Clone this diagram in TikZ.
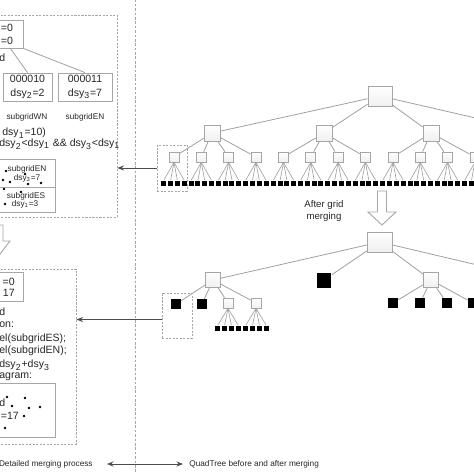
\documentclass[tikz,border=0pt]{standalone}
\usepackage{fontspec}
\setmainfont{Liberation Sans}
\usetikzlibrary{arrows.meta,positioning,fit}
\tikzset{
  qbox/.style={draw=gray!70, top color=white, bottom color=gray!12, inner sep=0pt, minimum size=#1},
  qbox/.default=2mm,
  leaf/.style={fill=black, inner sep=0pt, minimum size=#1},
  leaf/.default=1mm,
  link/.style={draw=gray!75, line width=0.45pt},
  dashbox/.style={draw=gray!70, dash pattern=on 1.2pt off 0.8pt, line width=0.5pt, inner sep=0pt},
  plainbox/.style={draw=gray!70, fill=white, inner sep=0pt, line width=0.5pt},
  txt/.style={font=\fontsize{6}{8}\selectfont, inner sep=0pt, text=black!85},
  small/.style={font=\fontsize{4.7}{5.5}\selectfont, inner sep=0pt, text=black!85},
  arr/.style={-{Stealth[length=1.3mm,width=1mm]}, draw=gray!60!black, line width=0.5pt},
  hollow/.style={draw=gray!70, fill=white, line width=0.5pt}}

\begin{document}
\begin{tikzpicture}[x=0.02cm, y=-0.02cm]
  \useasboundingbox (0,0) rectangle (474,474);
  % separator between the two halves
  \draw[gray!70, dash pattern=on 1.5pt off 1pt] (135,-5) -- (135,480);

  % detailed merging, first step
  \node[dashbox, fit={(-20,15) (117,217)}] (panelA) {};
  \node[plainbox, fit={(-40,20) (23,48)}] (parA) {};
  \node[txt, anchor=west] at (0.5,28) {=0};
  \node[txt, anchor=west] at (0.5,41) {=0};
  \node[txt, anchor=west] at (-1,58) {d};
  \node[plainbox, txt, align=center, minimum width=9.8mm, minimum height=5.6mm] (chWN) at (27.5,87) {000010\\dsy\textsubscript{2}=2};
  \node[plainbox, txt, align=center, minimum width=10.8mm, minimum height=5.6mm] (chEN) at (85,87) {000011\\dsy\textsubscript{3}=7};
  \draw[link] ([xshift=-2.6mm]parA.south east) -- (chWN.north);
  \draw[link] (parA.south east) -- (chEN.north);
  \node[small] (lbWN) at (27,117) {subgridWN};
  \node[small] (lbEN) at (85,117) {subgridEN};
  \node[txt, anchor=west] (condA) at (2,133) {dsy\textsubscript{1}=10)};
  \node[txt, anchor=west] (condB) at (-1,144) {dsy\textsubscript{2}<dsy\textsubscript{1} \&\& dsy\textsubscript{3}<dsy\textsubscript{1}};
  \node[plainbox, fit={(-20,159) (55,212)}] (gridA) {};
  \draw[gray!70] (gridA.west |- 0,187) -- (gridA.east |- 0,187);
  \node[small] at (27,169) {subgridEN};
  \node[small] at (27,178) {dsy\textsubscript{3}=7};
  \node[small] at (26,196) {subgridES};
  \node[small] at (25,204) {dsy\textsubscript{1}=3};
  \foreach \p in {(6,171),(3,180),(10,182),(25,174),(28,184),(41,183),(4,189),(21,192),(5,204)}
    \fill \p circle[radius=0.26mm];
  \draw[hollow] (-9,225) -- (3,225) -- (3,241) -- (10,241) -- (-3,258) -- (-16,241) -- (-9,241) -- cycle;

  % detailed merging, second step
  \node[dashbox, fit={(-20,269) (76,444)}] (panelB) {};
  \node[plainbox, fit={(-40,272) (23,301)}] (parB) {};
  \node[txt, anchor=east] at (15,282) {=0};
  \node[txt, anchor=east] at (15,293) {17};
  \node[txt, anchor=west] at (-1,312) {d};
  \node[txt, anchor=west] at (-1,325) {on:};
  \node[txt, anchor=west] at (-1,339) {el(subgridES);};
  \node[txt, anchor=west] at (-1,351) {el(subgridEN);};
  \node[txt, anchor=west] at (-1,365) {dsy\textsubscript{2}+dsy\textsubscript{3}};
  \node[txt, anchor=west] at (-1,377) {agram:};
  \node[plainbox, fit={(-20,383) (55,437)}] (gridB) {};
  \node[txt, anchor=west] at (-1,403) {d};
  \node[txt, anchor=west] at (0.5,416) {=17};
  \foreach \p in {(7,397),(25,398),(12,406),(29,408),(40,407),(24,416),(5,428)}
    \fill \p circle[radius=0.26mm];

  % legend
  \node[small, anchor=east] (lgL) at (93,464) {Detailed merging process};
  \node[small, anchor=west] (lgR) at (189,464) {QuadTree before and after merging};
  \draw[arr, {Stealth[length=1.3mm,width=1mm]}-{Stealth[length=1.3mm,width=1mm]}] ([xshift=2.8mm]lgL.east) -- ([xshift=-1.2mm]lgR.west);

  % quadtree before merging
  \node[qbox, minimum width=4.8mm, minimum height=4mm] (rootA) at (380,96) {};
  \foreach \i/\x in {1/212,2/324,3/431,4/541} {
    \node[qbox=3.2mm] (a\i) at (\x,133) {};
    \draw[link] (rootA) -- (a\i);
  }
  \foreach \i in {1,...,4} \foreach \j in {1,...,4} {
    \pgfmathsetmacro\xx{174+(\i-1)*109.5+(\j-1)*27.3}
    \node[qbox=2mm] (a\i\j) at (\xx,157) {};
    \draw[link] (a\i) -- (a\i\j);
    \foreach \k in {1,...,4} {
      \node[leaf] (a\i\j\k) at (\xx+\k*6.75-16.875,183) {};
      \draw[link, line width=0.35pt] (a\i\j.south) -- (a\i\j\k.north);
    }
  }
  \node[dashbox, fit={(157,145) (187,191)}] (selA) {};
  \draw[arr] (selA.west) -- (selA.west -| panelA.east);

  % after grid merging
  \draw[hollow] (377.5,191) -- (386.5,191) -- (386.5,212) -- (396,212) -- (382,225) -- (368,212) -- (377.5,212) -- cycle;
  \node[font=\fontsize{5.5}{6.3}\selectfont, align=center, inner sep=0pt, text=black!85] (mergeLbl) at (324,211) {After grid\\merging};

  % quadtree after merging
  \node[qbox, minimum width=5mm, minimum height=4mm] (rootB) at (380,242) {};
  \node[qbox=3mm] (b1) at (213,280) {};
  \node[leaf=3mm] (b2) at (324,280) {};
  \node[qbox=3mm] (b3) at (431,280) {};
  \node[qbox=3mm] (b4) at (541,280) {};
  \foreach \i in {1,...,4} \draw[link] (rootB) -- (b\i);
  \node[leaf=2mm] (b11) at (176,304) {};
  \node[leaf=2mm] (b12) at (202,304) {};
  \node[qbox=2mm] (b13) at (228,303) {};
  \node[qbox=2mm] (b14) at (256,303) {};
  \foreach \j in {1,...,4} \draw[link] (b1) -- (b1\j);
  \foreach \j/\x in {3/228,4/256} \foreach \k in {1,...,4} {
    \node[leaf] (b1\j\k) at (\x+\k*6.75-16.875,328) {};
    \draw[link, line width=0.35pt] (b1\j.south) -- (b1\j\k.north);
  }
  \foreach \j/\x in {1/393,2/420,3/447,4/473} {
    \node[leaf=2mm] (b3\j) at (\x,303) {};
    \draw[link] (b3) -- (b3\j);
  }
  \node[dashbox, fit={(162,293) (192,338)}] (selB) {};
  \draw[arr] ([yshift=-0.8mm]selB.west) -- ([yshift=-0.8mm]selB.west -| panelB.east);
\end{tikzpicture}
\end{document}
